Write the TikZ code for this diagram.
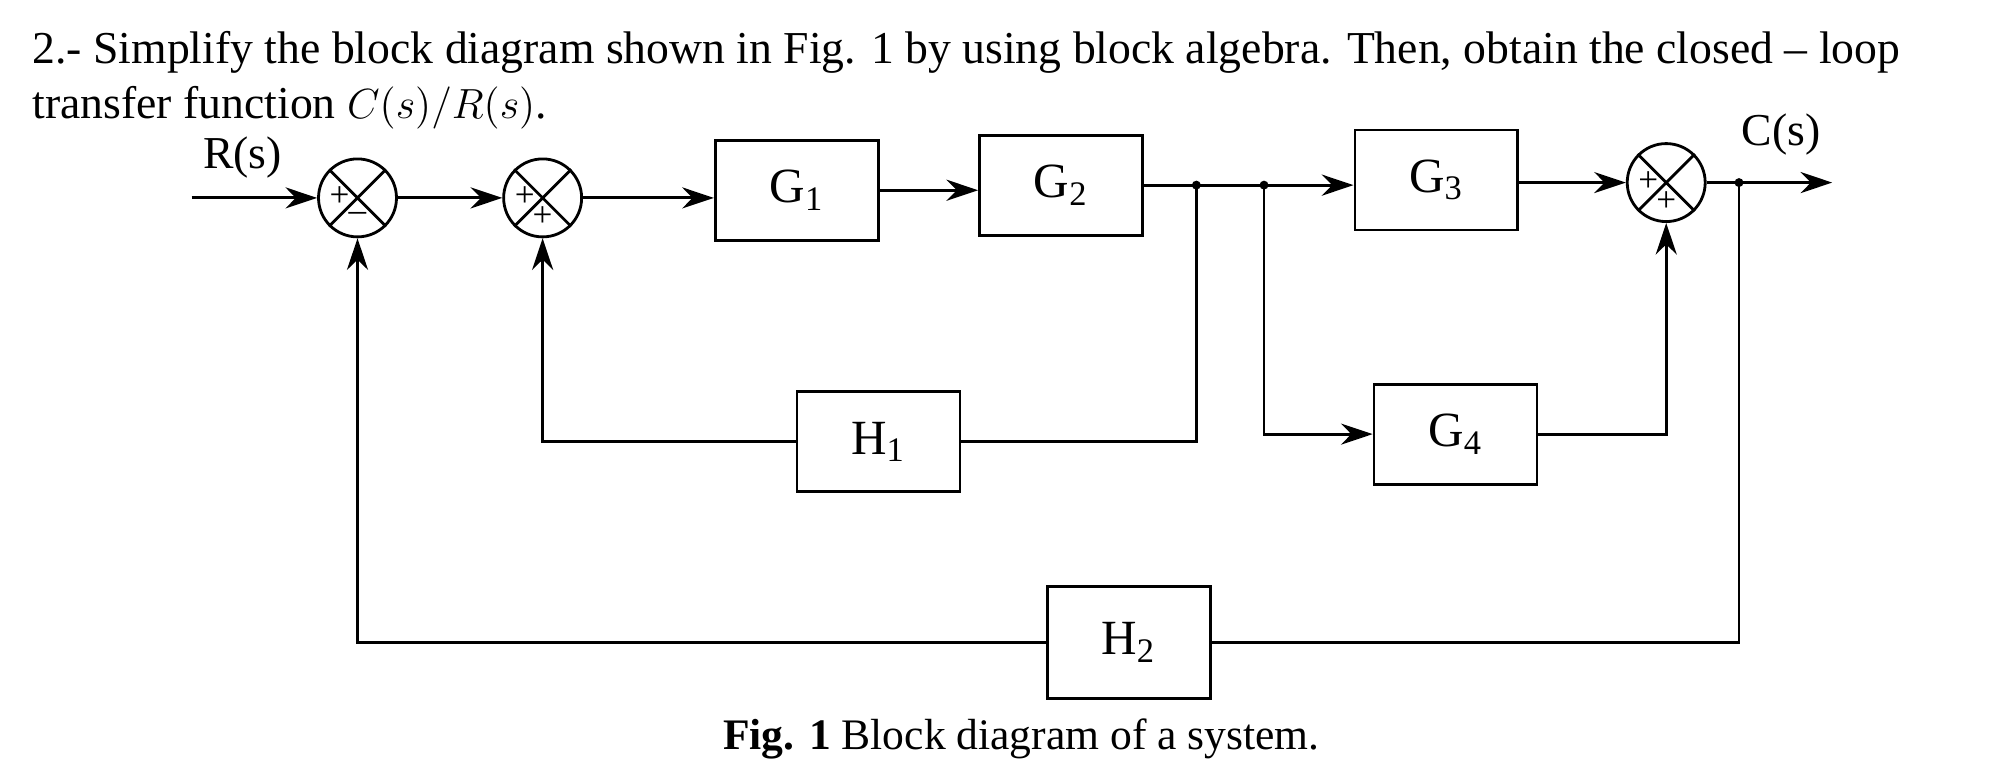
\documentclass[tikz,border=0pt]{standalone}
\usepackage{fontspec}
\setmainfont{Liberation Serif}
\usetikzlibrary{arrows.meta,calc}
\begin{document}
\begin{tikzpicture}[x=0.01277cm,y=-0.01277cm,
  blk/.style={draw,thick,minimum width=1.63cm,minimum height=1.0cm,font=\fontsize{14}{16}\selectfont},
  sumj/.style={draw,thick,circle,minimum size=0.78cm,inner sep=0pt},
  sig/.style={thick,-{Stealth[length=9pt,width=6pt]}},
  ln/.style={thick},
  sg/.style={font=\fontsize{10}{10}\selectfont,inner sep=0pt}]
\fill[white] (0,0) rectangle (1568,601);
\useasboundingbox (0,0) rectangle (1568,601);
\node[anchor=base west,inner sep=0pt,font=\fontsize{13}{15}\selectfont] (t1) at (25,50) {2.- Simplify the block diagram shown in Fig. 1 by using block algebra. Then, obtain the closed -- loop};
\node[anchor=base west,inner sep=0pt,font=\fontsize{13}{15}\selectfont] (t2) at (25,93) {transfer function $C(s)/R(s)$.};
% sums
\node[sumj] (s1) at (280,155) {};
\node[sumj] (s2) at (425,155) {};
\node[sumj] (s3) at (1305,143) {};
\foreach \s in {s1,s2,s3}{\draw[thick] (\s.north west)--(\s.south east) (\s.north east)--(\s.south west);}
\node[sg] (p1) at ($(s1)+(-14,-1)$) {+};
\node[sg] (m1) at ($(s1)+(0,15)$) {--};
\node[sg] (p2) at ($(s2)+(-14,-1)$) {+};
\node[sg] (q2) at ($(s2)+(0,15)$) {+};
\node[sg] (p3) at ($(s3)+(-14,-1)$) {+};
\node[sg] (q3) at ($(s3)+(0,15)$) {+};
% blocks
\node[blk] (G1) at (624,149) {G\textsubscript{1}};
\node[blk] (G2) at (831,145) {G\textsubscript{2}};
\node[blk] (G3) at (1125,141) {G\textsubscript{3}};
\node[blk] (G4) at (1140,340) {G\textsubscript{4}};
\node[blk] (H1) at (688,346) {H\textsubscript{1}};
\node[blk,minimum height=1.12cm] (H2) at (884,503) {H\textsubscript{2}};
\node[font=\fontsize{13}{15}\selectfont] (R) at (190,123) {R(s)};
\node[font=\fontsize{13}{15}\selectfont] (C) at (1395,105) {C(s)};
\node[anchor=base,font=\fontsize{12.4}{15}\selectfont] (cap) at (800,587) {\textbf{Fig. 1} Block diagram of a system.};
% coordinates
\coordinate (in) at (150,155);
\coordinate (d1) at (937,145);
\coordinate (d2) at (990,145);
\coordinate (d3) at (1362,143);
\coordinate (out) at (1435,143);
\fill (d1) circle (3.5); \fill (d2) circle (3.5); \fill (d3) circle (3.5);
% forward
\draw[sig] (in) -- (s1.west);
\draw[sig] (s1.east) -- (s2.west);
\draw[sig] (s2.east) -- (s2.east -| G1.west);
\draw[sig] (G1.east) -- (G2.west |- G1.east);
\draw[ln] (G2.east) -- (d1) -- (d2);
\draw[sig] (d2) -- (G3.west |- d2);
\draw[sig] (G3.east |- s3) -- (s3.west);
\draw[ln] (s3.east) -- (d3);
\draw[sig] (d3) -- (out);
% H1 loop
\draw[ln] (d1) |- (H1.east);
\draw[sig] (H1.west) -| (s2.south);
% G4 path
\draw[sig] (d2) |- (G4.west);
\draw[sig] (G4.east) -| (s3.south);
% H2 loop
\draw[ln] (d3) |- (H2.east);
\draw[sig] (H2.west) -| (s1.south);
\end{tikzpicture}
\end{document}
